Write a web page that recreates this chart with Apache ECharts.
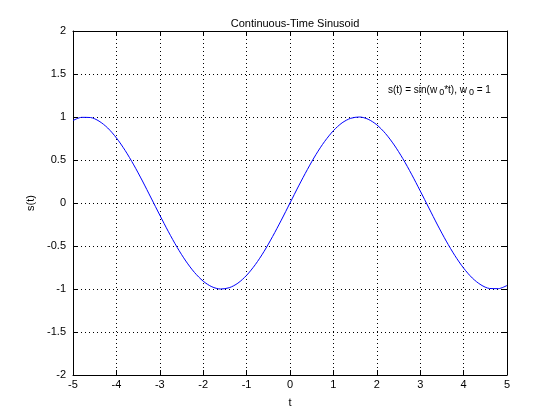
<!DOCTYPE html>
<html>
<head>
<meta charset="utf-8">
<script src="https://cdn.jsdelivr.net/npm/echarts@6/dist/echarts.min.js"></script>
<style>html,body{margin:0;padding:0;background:#fff;}#c{width:560px;height:420px;}</style>
</head>
<body>
<div id="c"></div>
<script>
const titleText = 'Continuous-Time Sinusoid';
const xName = 't';
const yName = 's(t)';
const tValues = [-5.0,-4.8,-4.6,-4.4,-4.2,-4.0,-3.8,-3.6,-3.4,-3.2,-3.0,-2.8,-2.6,-2.4,-2.2,-2.0,-1.8,-1.6,-1.4,-1.2,-1.0,-0.8,-0.6,-0.4,-0.2,0.0,0.2,0.4,0.6,0.8,1.0,1.2,1.4,1.6,1.8,2.0,2.2,2.4,2.6,2.8,3.0,3.2,3.4,3.6,3.8,4.0,4.2,4.4,4.6,4.8,5.0];
const sValues = [0.959,0.996,0.994,0.952,0.872,0.757,0.612,0.443,0.256,0.058,-0.141,-0.335,-0.516,-0.675,-0.808,-0.909,-0.974,-1.000,-0.985,-0.932,-0.841,-0.717,-0.565,-0.389,-0.199,0.000,0.199,0.389,0.565,0.717,0.841,0.932,0.985,1.000,0.974,0.909,0.808,0.675,0.516,0.335,0.141,-0.058,-0.256,-0.443,-0.612,-0.757,-0.872,-0.952,-0.994,-0.996,-0.959];

const font = 'Liberation Sans, Arial, Helvetica, sans-serif';
const chart = echarts.init(document.getElementById('c'), null, {renderer: 'canvas'});
const gridLine = {show: true, lineStyle: {color: '#000', type: [1, 3], width: 1}};
const axLine = {show: true, onZero: false, lineStyle: {color: '#000', width: 1}};
const ticks = {show: true, inside: true, length: 5, lineStyle: {color: '#000'}};
const lbl = {color: '#000', fontSize: 11, fontFamily: font};
chart.setOption({
  animation: false,
  backgroundColor: '#fff',
  title: {text: titleText, left: 290, top: 13, textAlign: 'center',
    textStyle: {fontSize: 11, fontWeight: 'normal', color: '#000', fontFamily: font}},
  grid: {left: 73, right: 53, top: 31, bottom: 45},
  xAxis: [
    {type: 'value', min: -5, max: 5, interval: 1, position: 'bottom',
     name: xName, nameLocation: 'middle', nameGap: 22, nameTextStyle: lbl,
     axisLine: axLine, axisTick: ticks, axisLabel: Object.assign({margin: 4}, lbl), splitLine: gridLine},
    {type: 'value', min: -5, max: 5, interval: 1, position: 'top',
     axisLine: axLine, axisTick: ticks, axisLabel: {show: false}, splitLine: {show: false}}
  ],
  yAxis: [
    {type: 'value', min: -2, max: 2, interval: 0.5, position: 'left',
     name: yName, nameLocation: 'middle', nameGap: 28, nameRotate: 90, nameTextStyle: lbl,
     axisLine: axLine, axisTick: ticks, axisLabel: Object.assign({margin: 7}, lbl), splitLine: gridLine},
    {type: 'value', min: -2, max: 2, interval: 0.5, position: 'right',
     axisLine: axLine, axisTick: ticks, axisLabel: {show: false}, splitLine: {show: false}}
  ],
  series: [{
    type: 'line', xAxisIndex: 0, yAxisIndex: 0, smooth: 0.3, showSymbol: false,
    lineStyle: {color: '#0000ff', width: 1},
    data: tValues.map((t, i) => [t, sValues[i]])
  }],
  graphic: [{
    type: 'text', left: 388, top: 85,
    style: {
      text: '{a|s(t) = sin(w}{s|0}{a|*t), w}{s|0}{a| = 1}',
      rich: {
        a: {fontSize: 10, fontFamily: font, fill: '#000', color: '#000'},
        s: {fontSize: 9, fontFamily: font, fill: '#000', color: '#000', padding: [6, 0, 0, 2]}
      }
    }
  }]
});
</script>
</body>
</html>
